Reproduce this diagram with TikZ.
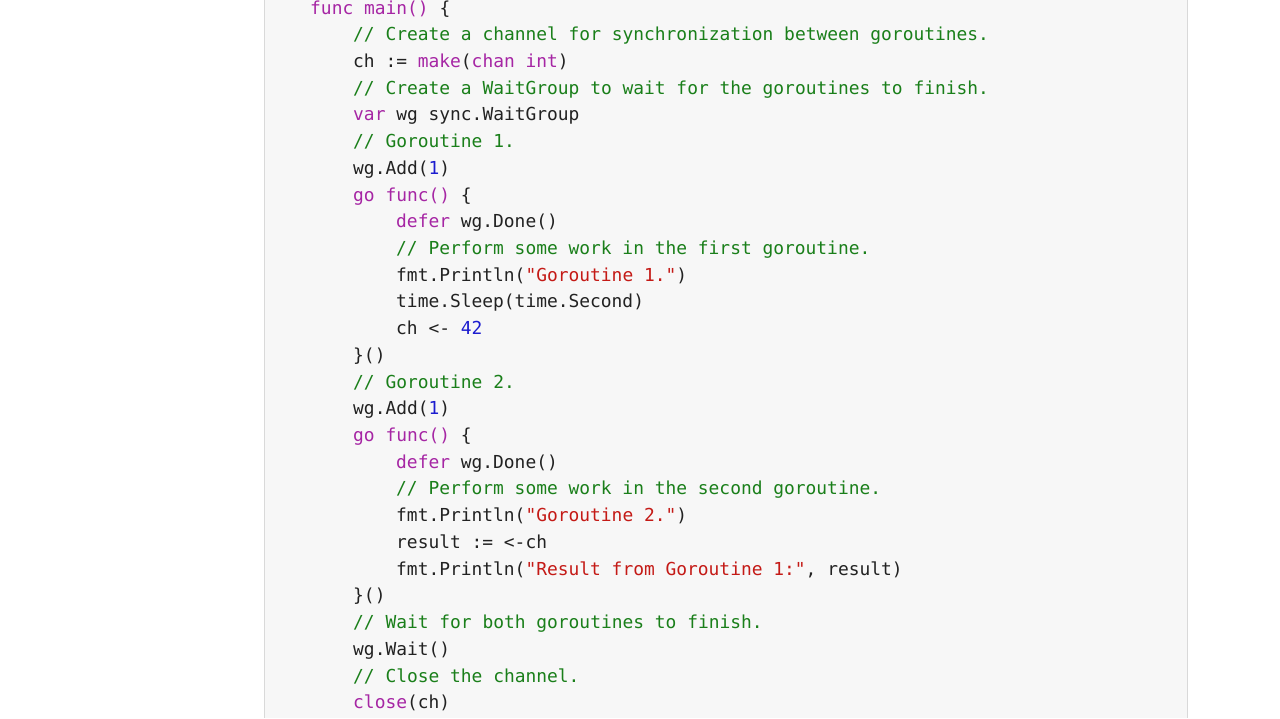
\documentclass[tikz,border=0pt]{standalone}
\usepackage{fontspec}
\setmonofont{DejaVu Sans Mono}
\definecolor{kwc}{HTML}{A626A4}
\definecolor{cmc}{HTML}{1A7F1A}
\definecolor{stc}{HTML}{C41A16}
\definecolor{nmc}{HTML}{1C1CCF}
\definecolor{txc}{HTML}{222222}
\newcommand{\gkw}[1]{\textcolor{kwc}{#1}}
\newcommand{\gcm}[1]{\textcolor{cmc}{#1}}
\newcommand{\gst}[1]{\textcolor{stc}{#1}}
\newcommand{\gnm}[1]{\textcolor{nmc}{#1}}
\begin{document}
\begin{tikzpicture}[x=1pt,y=-1pt,
  ln/.style={anchor=base west,inner sep=0pt,font=\fontsize{17.9}{20}\ttfamily,text=txc}]
\useasboundingbox (0,0) rectangle (1280,718);
\fill[white] (0,0) rectangle (1280,718);
\fill[black!3] (264,0) rectangle (1188,718);
\draw[black!15] (264.5,0) -- (264.5,718) (1187.5,0) -- (1187.5,718);
\def\ya{14}\def\dy{26.72}
\node[ln] (l1) at (310,14+0*\dy) {\gkw{func main()} \{};
\node[ln] (l2) at (353,14+1*\dy) {\gcm{// Create a channel for synchronization between goroutines.}};
\node[ln] (l3) at (353,14+2*\dy) {ch := \gkw{make}(\gkw{chan int})};
\node[ln] (l4) at (353,14+3*\dy) {\gcm{// Create a WaitGroup to wait for the goroutines to finish.}};
\node[ln] (l5) at (353,14+4*\dy) {\gkw{var} wg sync.WaitGroup};
\node[ln] (l6) at (353,14+5*\dy) {\gcm{// Goroutine 1.}};
\node[ln] (l7) at (353,14+6*\dy) {wg.Add(\gnm{1})};
\node[ln] (l8) at (353,14+7*\dy) {\gkw{go func()} \{};
\node[ln] (l9) at (396,14+8*\dy) {\gkw{defer} wg.Done()};
\node[ln] (l10) at (396,14+9*\dy) {\gcm{// Perform some work in the first goroutine.}};
\node[ln] (l11) at (396,14+10*\dy) {fmt.Println(\gst{"Goroutine 1."})};
\node[ln] (l12) at (396,14+11*\dy) {time.Sleep(time.Second)};
\node[ln] (l13) at (396,14+12*\dy) {ch <- \gnm{42}};
\node[ln] (l14) at (353,14+13*\dy) {\}()};
\node[ln] (l15) at (353,14+14*\dy) {\gcm{// Goroutine 2.}};
\node[ln] (l16) at (353,14+15*\dy) {wg.Add(\gnm{1})};
\node[ln] (l17) at (353,14+16*\dy) {\gkw{go func()} \{};
\node[ln] (l18) at (396,14+17*\dy) {\gkw{defer} wg.Done()};
\node[ln] (l19) at (396,14+18*\dy) {\gcm{// Perform some work in the second goroutine.}};
\node[ln] (l20) at (396,14+19*\dy) {fmt.Println(\gst{"Goroutine 2."})};
\node[ln] (l21) at (396,14+20*\dy) {result := <-ch};
\node[ln] (l22) at (396,14+21*\dy) {fmt.Println(\gst{"Result from Goroutine 1:"}, result)};
\node[ln] (l23) at (353,14+22*\dy) {\}()};
\node[ln] (l24) at (353,14+23*\dy) {\gcm{// Wait for both goroutines to finish.}};
\node[ln] (l25) at (353,14+24*\dy) {wg.Wait()};
\node[ln] (l26) at (353,14+25*\dy) {\gcm{// Close the channel.}};
\node[ln] (l27) at (353,14+26*\dy) {\gkw{close}(ch)};
\end{tikzpicture}
\end{document}
